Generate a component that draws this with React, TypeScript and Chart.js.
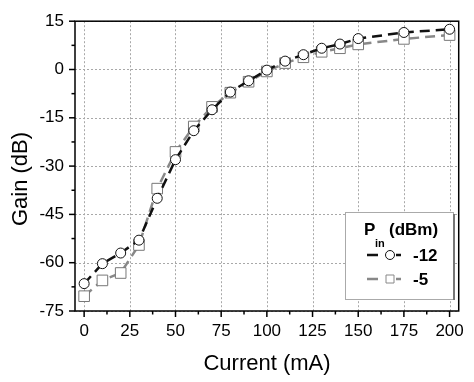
import React, { useEffect, useRef } from 'react';
import { Chart, registerables } from 'chart.js';
Chart.register(...registerables);

const currents = [0, 10, 20, 30, 40, 50, 60, 70, 80, 90, 100, 110, 120, 130, 140, 150, 175, 200];
const gainM12 = [-66.5, -60.3, -57, -53, -40, -28, -19, -12.5, -7, -3.5, -0.2, 2.6, 4.6, 6.6, 7.9, 9.6, 11.5, 12.5];
const gainM5 = [-70.4, -65.5, -63.2, -54.5, -37, -25.6, -17.7, -11.6, -7.2, -3.8, -0.6, 2, 3.8, 5.5, 6.6, 7.8, 9.5, 10.7];
const xTicks = [0, 25, 50, 75, 100, 125, 150, 175, 200];
const yTicks = [-75, -60, -45, -30, -15, 0, 15];
const seriesLabels = ['-12', '-5'];
const legendTitle = 'P';
const legendSub = 'in';
const legendUnit = '(dBm)';
const xTitle = 'Current (mA)';
const yTitle = 'Gain (dB)';

const FONT = 'Arial, "Liberation Sans", sans-serif';

const gridPlugin = {
  id: 'dotgrid',
  beforeDatasetsDraw(chart: any) {
    const { ctx, chartArea: a, scales } = chart;
    ctx.save();
    ctx.strokeStyle = '#a8a8a8';
    ctx.lineWidth = 1;
    ctx.setLineDash([2, 2]);
    xTicks.forEach((v) => {
      const px = Math.round(scales.x.getPixelForValue(v)) + 0.5;
      ctx.beginPath();
      ctx.moveTo(px, a.top);
      ctx.lineTo(px, a.bottom);
      ctx.stroke();
    });
    yTicks.forEach((v) => {
      const py = Math.round(scales.y.getPixelForValue(v)) + 0.5;
      ctx.beginPath();
      ctx.moveTo(a.left, py);
      ctx.lineTo(a.right, py);
      ctx.stroke();
    });
    ctx.restore();
  },
};

const framePlugin = {
  id: 'frame',
  afterDraw(chart: any) {
    const { ctx, chartArea: a, scales } = chart;
    const xs = scales.x;
    const ys = scales.y;
    ctx.save();
    ctx.strokeStyle = '#000';
    ctx.lineWidth = 1.5;
    ctx.strokeRect(a.left, a.top, a.right - a.left, a.bottom - a.top);
    for (let i = 0; i < xTicks.length; i++) {
      const px = xs.getPixelForValue(xTicks[i]);
      ctx.beginPath();
      ctx.moveTo(px, a.bottom);
      ctx.lineTo(px, a.bottom + 6);
      ctx.stroke();
      if (i < xTicks.length - 1) {
        const mx = xs.getPixelForValue((xTicks[i] + xTicks[i + 1]) / 2);
        ctx.beginPath();
        ctx.moveTo(mx, a.bottom);
        ctx.lineTo(mx, a.bottom + 3.5);
        ctx.stroke();
      }
    }
    for (let i = 0; i < yTicks.length; i++) {
      const py = ys.getPixelForValue(yTicks[i]);
      ctx.beginPath();
      ctx.moveTo(a.left, py);
      ctx.lineTo(a.left - 6, py);
      ctx.stroke();
      if (i < yTicks.length - 1) {
        const my = ys.getPixelForValue((yTicks[i] + yTicks[i + 1]) / 2);
        ctx.beginPath();
        ctx.moveTo(a.left, my);
        ctx.lineTo(a.left - 3.5, my);
        ctx.stroke();
      }
    }
    ctx.fillStyle = '#000';
    ctx.font = `22px ${FONT}`;
    ctx.textAlign = 'center';
    ctx.textBaseline = 'middle';
    ctx.fillText(xTitle, 267, 364);
    ctx.save();
    ctx.translate(21, 179);
    ctx.rotate(-Math.PI / 2);
    ctx.fillText(yTitle, 0, 0);
    ctx.restore();

    // legend
    const bx = 345, by = 212, bw = 108, bh = 87;
    ctx.fillStyle = '#fff';
    ctx.fillRect(bx, by, bw, bh);
    ctx.strokeStyle = '#aaa';
    ctx.lineWidth = 1;
    ctx.strokeRect(bx + 0.5, by + 0.5, bw, bh);
    ctx.strokeStyle = '#777';
    ctx.lineWidth = 2;
    ctx.beginPath();
    ctx.moveTo(bx + bw + 1, by + 2);
    ctx.lineTo(bx + bw + 1, by + bh + 1);
    ctx.stroke();

    ctx.fillStyle = '#000';
    ctx.textAlign = 'left';
    ctx.textBaseline = 'alphabetic';
    ctx.font = `bold 17px ${FONT}`;
    ctx.fillText(legendTitle, 364, 235);
    ctx.font = `bold 11px ${FONT}`;
    ctx.fillText(legendSub, 375, 247);
    ctx.font = `bold 17px ${FONT}`;
    ctx.fillText(legendUnit, 389, 235);

    const rows = [
      { y: 255, color: '#111', style: 'circle' },
      { y: 279, color: '#888', style: 'rect' },
    ];
    rows.forEach((r, i) => {
      ctx.strokeStyle = r.color;
      ctx.lineWidth = 2.5;
      ctx.beginPath();
      ctx.moveTo(367, r.y);
      ctx.lineTo(378, r.y);
      ctx.moveTo(396, r.y);
      ctx.lineTo(401, r.y);
      ctx.stroke();
      ctx.lineWidth = 1;
      ctx.fillStyle = '#fff';
      ctx.beginPath();
      if (r.style === 'circle') {
        ctx.arc(390, r.y, 4.5, 0, Math.PI * 2);
      } else {
        ctx.rect(386, r.y - 4, 8, 8);
      }
      ctx.fill();
      ctx.stroke();
      ctx.fillStyle = '#000';
      ctx.font = `bold 17px ${FONT}`;
      ctx.textBaseline = 'middle';
      ctx.fillText(seriesLabels[i], 413, r.y + 1);
    });
    ctx.restore();
  },
};

export default function App() {
  const ref = useRef<HTMLCanvasElement>(null);
  useEffect(() => {
    document.body.style.margin = '0';
    const chart = new Chart(ref.current as HTMLCanvasElement, {
      type: 'line',
      data: {
        datasets: [
          {
            label: seriesLabels[0],
            data: currents.map((c, i) => ({ x: c, y: gainM12[i] })),
            borderColor: '#111',
            borderWidth: 2.5,
            borderDash: [10, 6],
            pointStyle: 'circle',
            pointRadius: 5,
            pointBorderWidth: 1,
            pointBorderColor: '#111',
            pointBackgroundColor: '#fff',
            tension: 0,
          },
          {
            label: seriesLabels[1],
            data: currents.map((c, i) => ({ x: c, y: gainM5[i] })),
            borderColor: '#888',
            borderWidth: 2.5,
            borderDash: [10, 6],
            pointStyle: 'rect',
            pointRadius: 7.5,
            pointBorderWidth: 1,
            pointBorderColor: '#777',
            pointBackgroundColor: '#fff',
            tension: 0,
          },
        ],
      },
      options: {
        animation: false,
        responsive: false,
        devicePixelRatio: 1,
        layout: { padding: { left: 0, right: 10, top: 16, bottom: 0 } },
        plugins: { legend: { display: false }, tooltip: { enabled: false } },
        scales: {
          x: {
            type: 'linear',
            min: -5,
            max: 205,
            afterBuildTicks: (s: any) => {
              s.ticks = xTicks.map((v) => ({ value: v }));
            },
            afterFit: (s: any) => {
              s.height = 71;
            },
            grid: { display: false, drawTicks: false },
            border: { display: false },
            ticks: {
              padding: 10,
              color: '#000',
              font: { family: FONT, size: 17 },
              maxRotation: 0,
              autoSkip: false,
            },
          },
          y: {
            type: 'linear',
            min: -75,
            max: 15,
            afterBuildTicks: (s: any) => {
              s.ticks = yTicks.map((v) => ({ value: v }));
            },
            afterFit: (s: any) => {
              s.width = 75;
            },
            grid: { display: false, drawTicks: false },
            border: { display: false },
            ticks: {
              padding: 11,
              color: '#000',
              font: { family: FONT, size: 17 },
              autoSkip: false,
            },
          },
        },
      },
      plugins: [gridPlugin, framePlugin],
    });
    return () => chart.destroy();
  }, []);
  return <canvas ref={ref} width={474} height={382} style={{ display: 'block' }} />;
}
